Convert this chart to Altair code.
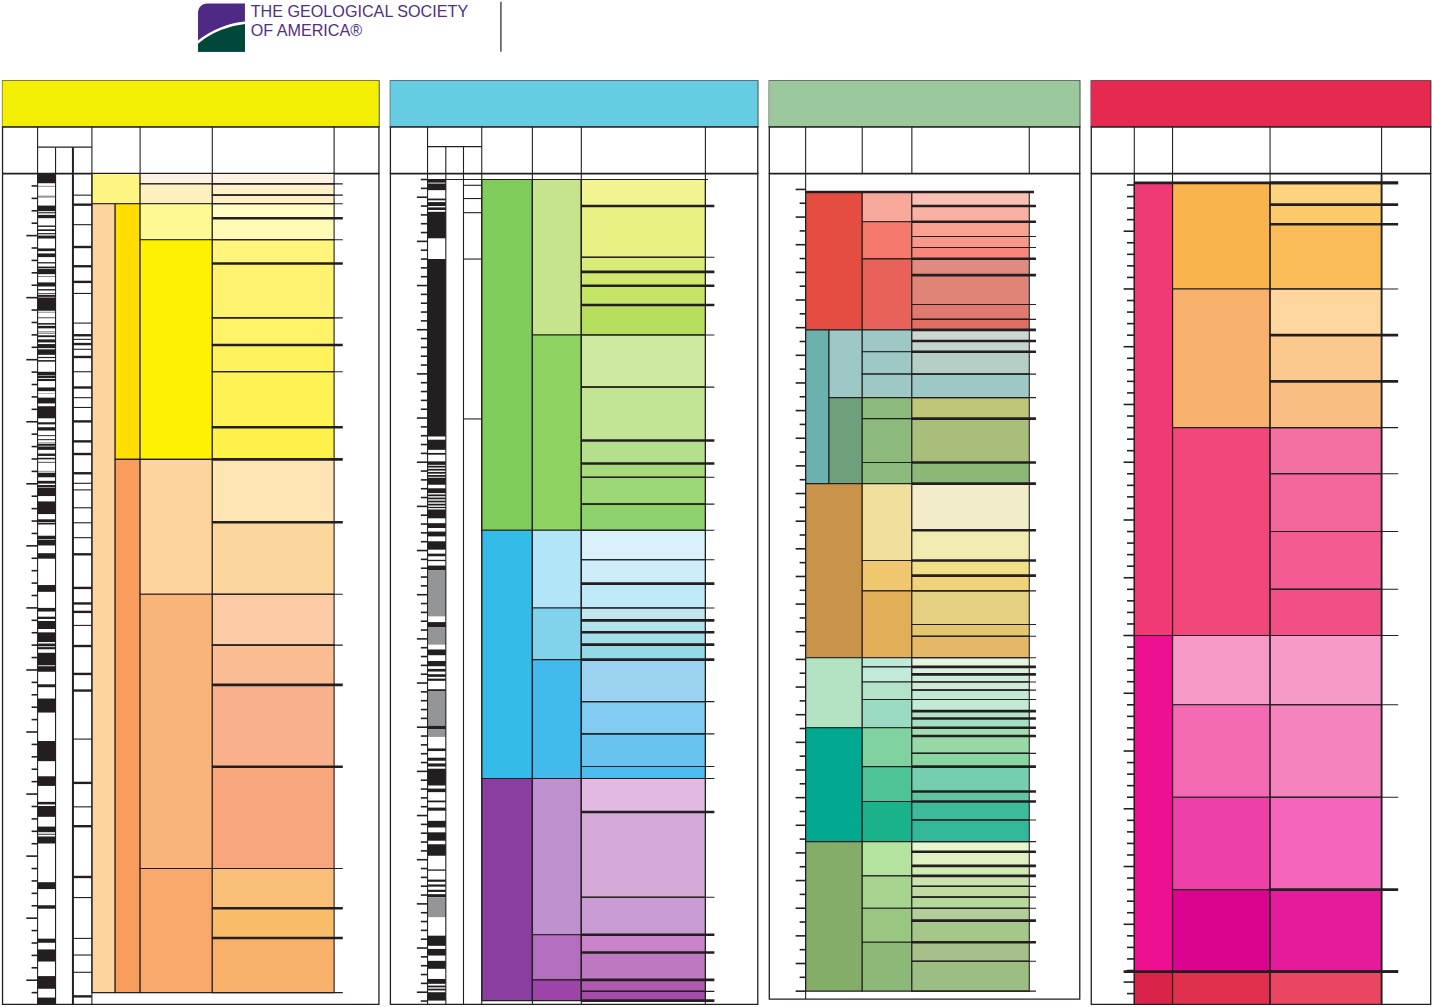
import altair as alt
import pandas as pd

INK = "#231F20"
GRAY = "#939598"
THIN, THICK = 1.1, 2.6

# ======================= DATA =======================
# ---- Cenozoic (ages in Ma) ----
CZ_STAGE_BOUNDS = [0, 0.83, 1.74, 2.43, 3.6, 5.333, 7.246, 11.63, 13.82, 15.97, 20.44,
                   23.03, 28.1, 33.9, 38.0, 41.2, 47.8, 56.0, 59.2, 61.6, 66.0]
CZ_STAGE_COLORS = ["#FEF2E5", "#FEF0C8", "#FEF0C5", "#FFFDC4", "#FFFBB4", "#FEF57A", "#FEF36E",
                   "#FEF367", "#FEF25D", "#FEF255", "#FEF24A", "#FCE5B2", "#FCD79D", "#FBCBA6",
                   "#FABD93", "#F9B18D", "#F8A67C", "#F9BF79", "#F9BC69", "#F8B16A"]
CZ_PICK_THICK = [0, 0, 0, 1, 0, 1, 0, 1, 0, 1, 1, 1, 0, 0, 1, 1, 0, 1, 1, 0]
CZ_EPOCH_BOUNDS = [0, 0.83, 2.43, 5.333, 23.03, 33.9, 56.0, 66.0]
CZ_EPOCH_COLORS = ["#FEF2E5", "#FEF0BE", "#FFF994", "#FFF200", "#FDD59C", "#F9B579", "#F9A86C"]
CZ_QUATERNARY = [0, 2.43]
CZ_TERTIARY = [2.43, 66.0]
CZ_SUBPERIOD_BOUNDS = [2.43, 23.03, 66.0]
CZ_PERIOD_COLORS = {"quaternary": "#FEF481", "tertiary": "#FDD59C",
                    "sub": ["#FFDD00", "#F99D5D"]}
CZ_NORMAL = [(0, 0.781), (2.581, 3.032), (3.116, 3.207), (3.330, 3.596), (4.187, 4.300),
             (4.493, 4.631), (4.799, 4.896), (4.997, 5.235), (6.033, 6.252), (6.436, 6.733),
             (7.140, 7.212), (7.251, 7.285), (7.454, 7.489), (7.528, 7.642), (7.695, 8.108),
             (8.254, 8.300), (8.771, 9.105), (9.311, 9.426), (9.647, 9.721), (9.786, 9.937),
             (9.984, 11.056), (11.146, 11.188), (11.592, 11.657), (12.049, 12.174),
             (12.272, 12.474), (12.735, 12.770), (12.829, 12.887), (13.032, 13.183),
             (13.363, 13.608), (13.739, 14.070), (14.163, 14.609), (14.775, 14.870),
             (15.032, 15.160), (15.974, 16.268), (16.303, 16.472), (16.543, 16.721),
             (17.235, 17.533), (17.717, 17.740), (18.056, 18.524), (18.748, 19.722),
             (20.040, 20.213), (20.439, 20.709), (21.083, 21.159), (21.403, 21.483),
             (21.659, 21.688), (21.767, 21.936), (21.992, 22.268), (22.564, 22.754),
             (22.902, 23.030), (23.233, 23.295), (23.962, 24.000), (24.109, 24.474),
             (24.761, 24.984), (25.099, 25.264), (25.304, 25.987), (26.420, 27.439),
             (27.859, 28.087), (28.141, 28.278), (29.183, 29.477), (29.527, 29.970),
             (30.591, 31.034), (33.157, 33.705), (34.999, 35.294), (35.706, 35.892),
             (36.051, 36.700), (36.969, 37.753), (37.872, 38.093), (38.159, 38.333),
             (38.615, 39.627), (39.698, 40.145), (41.154, 41.390), (42.301, 43.432),
             (45.724, 47.349), (48.566, 49.344), (50.628, 50.835), (50.961, 51.833),
             (52.620, 53.074), (53.199, 53.274), (53.416, 53.983), (57.101, 57.656),
             (58.959, 59.237), (61.650, 61.983), (62.517, 63.494), (64.667, 65.688),
             (66.398, 68.196)]
CZ_NORMAL_UNCERTAIN = [(0.988, 1.072), (1.778, 1.945)]
CZ_CHRON_BOUNDS = [1.74, 2.51, 4.12, 5.92, 7.47, 8.73, 9.66, 12.05, 13.03, 13.36, 13.74,
                   14.16, 14.78, 15.97, 17.24, 18.06, 18.85, 19.97, 21.58, 22.60, 24.15,
                   24.96, 25.49, 26.93, 28.14, 29.34, 30.68, 33.39, 34.64, 35.32, 36.41,
                   38.07, 40.32, 41.66, 45.57, 49.10, 51.03, 52.59, 56.68, 58.34, 61.63,
                   62.97, 64.36, 66.30]
CZ_CHRON_THICK = [0, 1, 0, 1, 1, 1, 0, 0, 1, 0, 1, 0, 1, 0, 1, 0, 0, 1, 1, 1, 1, 0, 0, 0,
                  0, 0, 1, 1, 1, 1, 0, 1, 1, 1, 0, 1, 0, 1, 1, 0, 0, 0, 0, 1]
CZ_TICKS = list(range(1, 67))

# ---- Mesozoic ----
MZ_STAGE_BOUNDS = [66.0, 72.0, 83.6, 86.9, 90.05, 94.4, 101.2, 113.0, 125.1, 130.3, 133.4,
                   139.5, 145.4, 152.1, 157.5, 163.0, 165.8, 168.5, 171.3, 174.7, 184.2,
                   191.5, 198.9, 201.6, 209.2, 228.5, 237.0, 241.0, 247.2, 249.8, 251.9]
MZ_STAGE_COLORS = ["#F2F48F", "#E6F083", "#DAEC78", "#CFE86D", "#C3E464", "#B7DF5D",
                   "#CDEAA0", "#C1E594", "#B4E08B", "#A6DA7A", "#9BD774", "#8DD26C",
                   "#D9F1FA", "#CCEDF9", "#C0E9F8", "#BFE8EE", "#B0E3EC", "#A3DEEA",
                   "#95D9E9", "#9BD3F1", "#82CBF0", "#68C3EF", "#4CBBEE",
                   "#E2B9E2", "#D5AAD9", "#C99DD4", "#C983C8", "#BD78C1", "#B05AAF", "#A54BAA"]
MZ_PICK_THICK = [1, 0, 1, 1, 1, 0, 0, 1, 1, 0, 0, 0, 0, 1, 0, 1, 1, 1, 1, 0, 0, 0, 0, 1, 0,
                 1, 1, 1, 0, 1]
MZ_EPOCH_BOUNDS = [66.0, 101.2, 145.4, 163.0, 174.7, 201.6, 237.0, 247.2, 251.9]
MZ_EPOCH_COLORS = ["#C5E48B", "#8ED362", "#B3E5F8", "#80D3EA", "#42BAEC", "#BF90CE",
                   "#B36EBF", "#9C44A8"]
MZ_PERIOD_BOUNDS = [66.0, 145.4, 201.6, 251.9]
MZ_PERIOD_COLORS = ["#80CC5A", "#33BCE8", "#8A3EA0"]
MZ_NORMAL = [(66.0, 66.7), (66.9, 68.4), (70.3, 70.7), (71.1, 72.0), (72.3, 72.9), (73.3, 79.3),
             (84.0, 124.2), (124.9, 127.2), (127.9, 128.3), (129.8, 130.6), (130.8, 131.2),
             (131.5, 131.9), (132.2, 132.6), (132.9, 133.3), (133.5, 135.1), (135.9, 137.0),
             (137.3, 137.7), (138.0, 138.4), (138.7, 139.1), (139.4, 139.8), (140.1, 140.4),
             (140.7, 142.7), (143.8, 144.9), (145.7, 146.8), (147.9, 149.8), (150.7, 151.3),
             (152.1, 152.4), (153.4, 154.5), (166.2, 167.4), (172.4, 173.7), (175.0, 176.2),
             (176.8, 177.4), (178.0, 178.6), (179.0, 179.5), (181.4, 181.9), (189.6, 190.5),
             (194.8, 195.4), (196.9, 197.6), (198.2, 198.9), (199.4, 203.2), (203.9, 204.7),
             (206.6, 207.0), (208.2, 208.9), (211.2, 212.7), (213.8, 215.7), (216.5, 219.1),
             (222.2, 222.5), (224.5, 225.0), (225.6, 226.1), (226.8, 227.3), (227.8, 228.5),
             (237.2, 239.5), (240.2, 241.7), (242.9, 244.7), (247.0, 248.1), (248.5, 248.9),
             (249.2, 249.6), (250.0, 251.9)]
MZ_UNCERTAIN = [(154.5, 164.9), (167.4, 171.3), (181.9, 189.6), (190.5, 192.2), (228.5, 233.0)]
MZ_CHRON_BOUNDS = [67.3, 70.3, 73.5, 84.0, 120.2]
MZ_TICKS = list(range(66, 253, 2))

# ---- Paleozoic ----
PZ_STAGE_BOUNDS = [251.9, 257.0, 262.7, 268.0, 272.0, 276.1, 282.0, 292.6, 298.0, 301.8,
                   305.8, 309.7, 317.8, 326.3, 333.9, 349.8, 357.4,
                   374.3, 385.2, 390.7, 396.2, 408.4, 412.6, 420.4,
                   423.7, 426.4, 429.2, 432.1, 435.5, 439.7, 442.4, 445.7,
                   448.7, 455.0, 459.8, 468.8, 472.4, 479.1, 486.9,
                   490.6, 495.7, 499.3, 503.1, 507.0, 511.0, 515.5, 523.3, 530.2, 541.0]
PZ_STAGE_COLORS = ["#FBC0B3", "#F9B1A4", "#F9A191", "#F9988A", "#F7877A", "#E18A80", "#E08478",
                   "#E0796F", "#E26D63",
                   "#CCD7D1", "#C4D5CE", "#B5CFC6", "#9DC8C4", "#BFC677", "#A7BF7B", "#8BB877",
                   "#F1ECC9", "#F1EBAF", "#F1DF88", "#F0D27B", "#E4D081", "#E4C76C", "#E4B866",
                   "#E6F5E1", "#D9F0DF", "#CEEDD9", "#CFEDD6", "#C2E9D3", "#C2EAD5", "#B3E4CA",
                   "#A5E0C4",
                   "#A6DCB2", "#96D9A7", "#8AD6A0", "#75CEAF", "#62C5A1", "#3DBB9B", "#33B799",
                   "#E8F6CF", "#DDF1C2", "#D0ECB5", "#CCE2AF", "#BFDBA1", "#B5D99A", "#B3CE98",
                   "#A6C78C", "#A7BF89", "#9BBE83"]
PZ_PICK_THICK = [1, 1, 0, 0, 1, 1, 0, 0, 1, 1, 1, 0, 0, 1, 1, 1, 1, 1, 1, 0, 0, 0, 0, 1, 1,
                 0, 0, 0, 1, 1, 1, 1, 0, 1, 1, 1, 0, 0, 1, 1, 1, 0, 0, 0, 1, 1, 0, 0]
PZ_EPOCH_BOUNDS = [251.9, 262.7, 276.1, 301.8, 309.7, 317.8, 326.3, 333.9, 349.8, 357.4,
                   385.2, 396.2, 420.4, 423.7, 429.2, 435.5, 445.7, 459.8, 472.4, 486.9,
                   499.3, 511.0, 523.3, 541.0]
PZ_EPOCH_COLORS = ["#F8A89B", "#F67A6C", "#E9625A", "#9DC8C4", "#9DC8C4", "#9DC8C4",
                   "#8CB97C", "#8CB97C", "#8CB97C", "#F1DF9D", "#EEC76F", "#E3AE58",
                   "#BFEAD8", "#C1EAD9", "#B3E4CA", "#9CDBC3", "#80D3A1", "#4DC396",
                   "#1AB28B", "#B4E39F", "#A6D48F", "#99C681", "#8CB977"]
PZ_PERMIAN = [251.9, 301.8]
PZ_CARBONIFEROUS = [301.8, 357.4]
PZ_SUBPERIOD_BOUNDS = [301.8, 326.3, 357.4]
PZ_LATER_BOUNDS = [357.4, 420.4, 445.7, 486.9, 541.0]
PZ_PERIOD_COLORS = {"permian": "#E64D42", "carboniferous": "#6BB2AF",
                    "sub": ["#9EC8C5", "#6EA07E"],
                    "later": ["#C99449", "#B3E3C3", "#02A890", "#84AD69"]}
PZ_TICKS = [541 - 5 * n for n in range(59)]

# ---- Precambrian ----
PC_EON_BOUNDS = [541, 2500, 3955, 4600]
PC_EON_COLORS = ["#EF3A75", "#ED1192", "#DA2348"]
PC_ERA_BOUNDS = [541, 1000, 1600, 2500, 2800, 3200, 3600, 3955, 4600]
PC_ERA_COLORS = ["#F9B44D", "#F7B16C", "#F1477B", "#F799C6", "#F36AB2", "#EF3FA8",
                 "#DA048E", "#E0304E"]
PC_PERIOD_BOUNDS = [541, 635, 720, 1000, 1200, 1400, 1600, 1800, 2050, 2300, 2500, 2800,
                    3200, 3600, 3955, 4600]
PC_PERIOD_COLORS = ["#FDD47D", "#FCCA68", "#FABC58", "#FED69E", "#FBC98E", "#FABD82",
                    "#F46FA2", "#F2669C", "#F35B93", "#F24F86", "#F69AC7", "#F584BD",
                    "#F366BB", "#E51B9B", "#EA4662"]
PC_PICK_THICK = [1, 1, 1, 0, 1, 1, 0, 0, 0, 0, 0, 0, 0, 1, 1]
PC_TICKS = list(range(550, 4051, 50))

HEADER_COLORS = ["#F2EF05", "#66CCE2", "#9CC89D", "#E62A4F"]

# ======================= LAYOUT HELPERS =======================
HDR_H, SUB_H = 46, 46.6
ONE = pd.DataFrame({"k": [0]})
NOSTROKE = alt.ViewBackground(strokeWidth=0)


def rects(x0, x1, bounds, colors):
    return [{"x0": x0, "x1": x1, "a0": bounds[i], "a1": bounds[i + 1], "fill": colors[i]}
            for i in range(len(colors))]


def spans(x0, x1, intervals, color):
    return [{"x0": x0, "x1": x1, "a0": a, "a1": b, "fill": color} for a, b in intervals]


def hrules(x0, x1, values, flags):
    return [{"x0": x0, "x1": x1, "a": v, "w": THICK if f else THIN} for v, f in zip(values, flags)]


def tick_rules(values, major, xs, xl, xe):
    return [{"x0": xl if m else xs, "x1": xe, "a": v, "w": 1.6} for v, m in zip(values, major)]


def vrules(xs_w, dom):
    return [{"x": x, "a0": dom[0], "a1": dom[1], "w": w} for x, w in xs_w]


def body(W, H, dom, cols, pol, hr, vr):
    xs = alt.Scale(domain=[0, W], nice=False, zero=False)
    ys = alt.Scale(domain=dom, reverse=True, nice=False, zero=False, clamp=True)

    def X(f):
        return alt.X(f, type="quantitative", scale=xs, axis=None)

    def Y(f):
        return alt.Y(f, type="quantitative", scale=ys, axis=None)

    layers = [alt.Chart(pd.DataFrame(cols)).mark_rect(stroke=INK, strokeWidth=1.1).encode(
        x=X("x0"), x2=alt.X2("x1"), y=Y("a0"), y2=alt.Y2("a1"),
        fill=alt.Fill("fill:N", scale=None))]
    if pol:
        layers.append(alt.Chart(pd.DataFrame(pol)).mark_rect(strokeWidth=0).encode(
            x=X("x0"), x2=alt.X2("x1"), y=Y("a0"), y2=alt.Y2("a1"),
            fill=alt.Fill("fill:N", scale=None)))
    layers.append(alt.Chart(pd.DataFrame(vr)).mark_rule(color=INK).encode(
        x=X("x"), y=Y("a0"), y2=alt.Y2("a1"), strokeWidth=alt.StrokeWidth("w:Q", scale=None)))
    layers.append(alt.Chart(pd.DataFrame(hr)).mark_rule(color=INK).encode(
        x=X("x0"), x2=alt.X2("x1"), y=Y("a"), strokeWidth=alt.StrokeWidth("w:Q", scale=None)))
    return alt.layer(*layers).properties(width=W, height=H)


def header(W, color):
    return alt.Chart(ONE).mark_rect(color=color).encode(
        x=alt.value(0), x2=alt.value(W), y=alt.value(0), y2=alt.value(HDR_H)
    ).properties(width=W, height=HDR_H)


def subheader(W, full, split=None):
    xs = alt.Scale(domain=[0, W], nice=False, zero=False)
    ys = alt.Scale(domain=[0, 1], reverse=True, nice=False, zero=False)
    rows = [{"x": x, "f0": 0, "f1": 1, "w": THIN} for x in full]
    layers = []
    if split:
        f, x0, x1, subs = split
        rows += [{"x": x, "f0": f, "f1": 1, "w": w} for x, w in subs]
        layers.append(alt.Chart(pd.DataFrame([{"x0": x0, "x1": x1, "f": f}])).mark_rule(
            color=INK, strokeWidth=1.3).encode(
            x=alt.X("x0:Q", scale=xs, axis=None), x2=alt.X2("x1"),
            y=alt.Y("f:Q", scale=ys, axis=None)))
    layers.insert(0, alt.Chart(pd.DataFrame(rows)).mark_rule(color=INK).encode(
        x=alt.X("x:Q", scale=xs, axis=None), y=alt.Y("f0:Q", scale=ys, axis=None),
        y2=alt.Y2("f1"), strokeWidth=alt.StrokeWidth("w:Q", scale=None)))
    return alt.layer(*layers).properties(width=W, height=SUB_H)


def panel(W, H, color, sub_full, sub_split, dom, cols, pol, hr, vr):
    return alt.vconcat(header(W, color), subheader(W, sub_full, sub_split),
                       body(W, H, dom, cols, pol, hr, vr), spacing=0, bounds="flush")


# ---- Panel 1: Cenozoic ----
W1, H1, D1 = 377, 832, [0, 66.93]
c1 = (rects(89.7, 138, CZ_QUATERNARY, [CZ_PERIOD_COLORS["quaternary"]])
      + rects(89.7, 113, CZ_TERTIARY, [CZ_PERIOD_COLORS["tertiary"]])
      + rects(113, 138, CZ_SUBPERIOD_BOUNDS, CZ_PERIOD_COLORS["sub"])
      + rects(138, 210.3, CZ_EPOCH_BOUNDS, CZ_EPOCH_COLORS)
      + rects(210.3, 332.3, CZ_STAGE_BOUNDS, CZ_STAGE_COLORS))
p1 = spans(35.3, 53.3, CZ_NORMAL, INK) + spans(35.3, 53.3, CZ_NORMAL_UNCERTAIN, GRAY)
h1 = (hrules(210.3, 341, CZ_STAGE_BOUNDS[1:], CZ_PICK_THICK)
      + [{"x0": 70.7, "x1": 89.7, "a": v, "w": 2.4 if t else THIN}
         for v, t in zip(CZ_CHRON_BOUNDS, CZ_CHRON_THICK)]
      + tick_rules(CZ_TICKS, [v % 5 == 0 for v in CZ_TICKS], 29.3, 24.0, 35.3))
v1 = vrules([(35.3, THIN), (53.3, THIN), (70.7, 2.0), (89.7, THIN)], D1)
panel1 = panel(W1, H1, HEADER_COLORS[0], [35.3, 89.7, 138, 210.3, 332.3],
               (0.442, 35.3, 89.7, [(53.3, THIN), (70.7, 2.0)]), D1, c1, p1, h1, v1)

# ---- Panel 2: Mesozoic ----
W2, H2, D2 = 368, 832, [64.64, 252.71]
c2 = (rects(91.7, 142.4, MZ_PERIOD_BOUNDS, MZ_PERIOD_COLORS)
      + rects(142.4, 191.4, MZ_EPOCH_BOUNDS, MZ_EPOCH_COLORS)
      + rects(191.4, 315.7, MZ_STAGE_BOUNDS, MZ_STAGE_COLORS))
p2 = spans(37.4, 55.7, MZ_NORMAL, INK) + spans(37.4, 55.7, MZ_UNCERTAIN, GRAY)
h2 = (hrules(191.4, 324.7, MZ_STAGE_BOUNDS[1:], MZ_PICK_THICK)
      + hrules(30.7, 318.4, MZ_STAGE_BOUNDS[:1], [0])
      + hrules(73.4, 91.7, MZ_CHRON_BOUNDS, [0] * len(MZ_CHRON_BOUNDS))
      + tick_rules(MZ_TICKS, [v % 10 == 0 for v in MZ_TICKS], 30.7, 26.7, 37.4))
v2 = vrules([(37.4, THIN), (55.7, THIN), (73.4, THIN), (91.7, THIN), (142.4, THIN),
             (191.4, THIN), (315.7, THIN)], D2)
panel2 = panel(W2, H2, HEADER_COLORS[1], [37.4, 91.7, 142.4, 191.4, 315.7],
               (0.43, 37.4, 91.7, [(55.7, THIN), (73.4, THIN)]), D2, c2, p2, h2, v2)

# ---- Panel 3: Paleozoic ----
W3, H3, D3 = 311, 826.7, [245.25, 543.8]
c3 = (rects(36.6, 93.3, PZ_PERMIAN, [PZ_PERIOD_COLORS["permian"]])
      + rects(36.6, 60, PZ_CARBONIFEROUS, [PZ_PERIOD_COLORS["carboniferous"]])
      + rects(60, 93.3, PZ_SUBPERIOD_BOUNDS, PZ_PERIOD_COLORS["sub"])
      + rects(36.6, 93.3, PZ_LATER_BOUNDS, PZ_PERIOD_COLORS["later"])
      + rects(93.3, 143, PZ_EPOCH_BOUNDS, PZ_EPOCH_COLORS)
      + rects(143, 260.6, PZ_STAGE_BOUNDS, PZ_STAGE_COLORS))
h3 = (hrules(143, 267.3, PZ_STAGE_BOUNDS[1:], PZ_PICK_THICK)
      + hrules(36.6, 265.3, PZ_STAGE_BOUNDS[:1], [1])
      + tick_rules(PZ_TICKS, [n % 2 == 0 for n in range(len(PZ_TICKS))], 30.6, 26.6, 36.6))
v3 = vrules([(36.6, THIN)], D3)
panel3 = panel(W3, H3, HEADER_COLORS[2], [36.6, 93.3, 143, 260.6], None, D3, c3, [], h3, v3)

# ---- Panel 4: Precambrian ----
W4, H4, D4 = 340, 832, [500.4, 4095.8]
c4 = (rects(43.3, 81.6, PC_EON_BOUNDS, PC_EON_COLORS)
      + rects(81.6, 179.3, PC_ERA_BOUNDS, PC_ERA_COLORS)
      + rects(179.3, 291, PC_PERIOD_BOUNDS, PC_PERIOD_COLORS))
h4 = (hrules(179.3, 307.6, PC_PERIOD_BOUNDS[:-1], PC_PICK_THICK)
      + hrules(43.3, 307.6, [541], [1])
      + hrules(32.6, 307.6, [2500, 3955], [0, 1])
      + tick_rules(PC_TICKS, [v % 250 == 0 for v in PC_TICKS], 36.0, 32.6, 43.3))
v4 = vrules([(43.3, 1.3), (81.6, THIN), (179.3, THIN), (291, 1.8)], D4)
panel4 = panel(W4, H4, HEADER_COLORS[3], [43.3, 81.6, 179.3, 291], None, D4, c4, [], h4, v4)

# outer concats use full bounds (nested concats have no fixed size)
panels = alt.hconcat(panel1, panel2, panel3, panel4, spacing=9.5)

# ---- Logo row ----
PURPLE, GREEN, TEXT_PURPLE = "#4E2A84", "#00483A", "#52307F"
TOP_H = 50
spacer = alt.Chart(ONE).mark_rule(opacity=0).encode(x=alt.value(0)).properties(
    width=195.95, height=TOP_H, view=NOSTROKE)
logo_bg = alt.Chart(ONE).mark_rect(color=PURPLE, cornerRadiusTopLeft=9).encode(
    x=alt.value(0), x2=alt.value(47), y=alt.value(1.7), y2=alt.value(TOP_H))
logo_arc = alt.Chart(ONE).mark_point(
    shape="circle", filled=True, fill=GREEN, stroke="white", strokeWidth=2.6,
    opacity=1, size=31970, clip=True).encode(x=alt.value(56), y=alt.value(110))
logo = alt.layer(logo_bg, logo_arc).properties(width=47, height=TOP_H, view=NOSTROKE)

FONT = "Liberation Sans, Arial, sans-serif"
t1 = alt.Chart(ONE).mark_text(text="THE GEOLOGICAL SOCIETY", font=FONT, fontSize=16.2,
                              color=TEXT_PURPLE, align="left", baseline="alphabetic").encode(
    x=alt.value(5.7), y=alt.value(15))
t2 = alt.Chart(ONE).mark_text(text="OF AMERICA®", font=FONT, fontSize=16.2,
                              color=TEXT_PURPLE, align="left", baseline="alphabetic").encode(
    x=alt.value(5.7), y=alt.value(34.3))
sep = alt.Chart(ONE).mark_rule(color=INK, strokeWidth=1.2).encode(
    x=alt.value(256.4), y=alt.value(0), y2=alt.value(TOP_H))
textblock = alt.layer(t1, t2, sep).properties(width=1185, height=TOP_H, view=NOSTROKE)

top_row = alt.hconcat(spacer, logo, textblock, spacing=0, bounds="flush")

chart = alt.vconcat(top_row, panels, spacing=27.0).properties(
    padding={"left": 1.35, "top": 0, "right": 0, "bottom": 0}
).configure_view(stroke=INK, strokeWidth=1.3)

chart.save("out.html", embed_options={"renderer": "svg", "actions": False})
